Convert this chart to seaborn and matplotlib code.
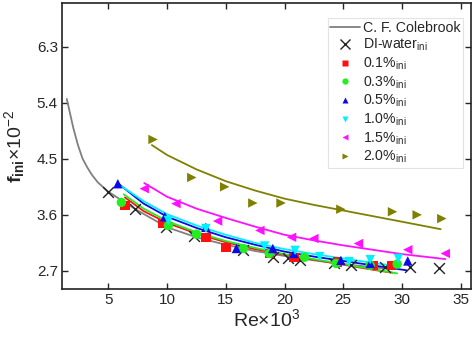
import numpy as np
import pandas as pd
import matplotlib
matplotlib.use("Agg")
import matplotlib.pyplot as plt
import seaborn as sns
from matplotlib.lines import Line2D

# ---- data ----
cb_x = [1.45, 1.7, 2.0, 2.4, 2.8, 3.2, 3.6, 4.1, 5.0, 7.3, 10.0, 12.5, 15.0, 17.5, 20.0, 22.5, 25.0, 27.5, 29.0]
cb_y = [5.46, 5.25, 5.00, 4.72, 4.50, 4.36, 4.24, 4.12, 3.97, 3.69, 3.40, 3.24, 3.12, 3.02, 2.94, 2.87, 2.81, 2.76, 2.73]

di_x = [5.0, 7.3, 9.9, 12.3, 16.5, 19.0, 20.3, 21.3, 24.2, 25.7, 28.6, 30.7, 33.2]
di_y = [3.97, 3.69, 3.41, 3.26, 3.04, 2.93, 2.90, 2.87, 2.82, 2.79, 2.76, 2.76, 2.75]

p01_x = [6.4, 9.6, 13.3, 15.0, 18.7, 20.8, 24.5, 27.6, 29.1]
p01_y = [3.75, 3.46, 3.24, 3.08, 2.98, 2.92, 2.84, 2.79, 2.79]
p03_x = [6.1, 10.1, 12.5, 16.5, 18.7, 21.7, 24.4, 27.3, 29.6]
p03_y = [3.80, 3.43, 3.29, 3.06, 2.98, 2.92, 2.82, 2.79, 2.81]
p05_x = [5.8, 9.8, 13.3, 15.9, 19.0, 20.8, 24.8, 27.3, 30.5]
p05_y = [4.10, 3.57, 3.40, 3.06, 3.06, 2.98, 2.87, 2.82, 2.86]
p10_x = [10.1, 13.3, 18.3, 20.9, 23.0, 25.5, 27.3, 29.7]
p10_y = [3.51, 3.38, 3.10, 3.03, 2.93, 2.85, 2.88, 2.90]
p15_x = [8.05, 10.75, 14.3, 17.9, 20.6, 22.5, 26.3, 30.5, 33.7]
p15_y = [4.02, 3.78, 3.50, 3.35, 3.24, 3.22, 3.14, 3.04, 2.98]
p20_x = [8.8, 12.1, 14.9, 17.3, 19.7, 24.8, 29.2, 31.3, 33.4]
p20_y = [4.81, 4.20, 4.05, 3.79, 3.79, 3.69, 3.65, 3.60, 3.54]

f01_x = [6.4, 8.0, 10.0, 12.5, 15.0, 17.5, 20.0, 22.5, 25.0, 27.5, 29.2]
f01_y = [3.88, 3.66, 3.47, 3.30, 3.16, 3.05, 2.96, 2.88, 2.80, 2.72, 2.67]
f03_x = [6.3, 8.0, 10.0, 12.5, 15.0, 17.5, 20.0, 22.5, 25.0, 27.5, 29.6]
f03_y = [3.93, 3.70, 3.50, 3.32, 3.18, 3.07, 2.97, 2.89, 2.81, 2.73, 2.66]
f05_x = [5.85, 8.0, 10.0, 12.5, 15.0, 17.5, 20.0, 22.5, 25.0, 27.5, 30.4]
f05_y = [4.10, 3.78, 3.57, 3.39, 3.24, 3.12, 3.01, 2.93, 2.86, 2.79, 2.71]
f10_x = [6.1, 8.0, 10.0, 12.5, 15.0, 17.5, 20.0, 22.5, 25.0, 27.5, 29.8]
f10_y = [4.06, 3.82, 3.61, 3.43, 3.28, 3.15, 3.05, 2.97, 2.90, 2.83, 2.77]
f15_x = [8.05, 10.0, 12.5, 15.0, 17.5, 20.0, 22.5, 25.0, 27.5, 30.0, 33.7]
f15_y = [4.11, 3.89, 3.70, 3.55, 3.41, 3.28, 3.19, 3.11, 3.04, 2.97, 2.89]
f20_x = [8.7, 10.0, 12.5, 15.0, 17.5, 20.0, 22.5, 25.0, 27.5, 30.0, 33.3]
f20_y = [4.72, 4.56, 4.33, 4.14, 3.99, 3.86, 3.76, 3.67, 3.58, 3.49, 3.37]

labels = ["DI-water", "0.1%", "0.3%", "0.5%", "1.0%", "1.5%", "2.0%"]
colors = ["#222222", "#ff1010", "#22ee22", "#0a0ae6", "#00f0ff", "#ff10ff", "#808000"]
markers = ["x", "s", "o", "^", "v", "<", ">"]
pts = [(di_x, di_y), (p01_x, p01_y), (p03_x, p03_y), (p05_x, p05_y),
       (p10_x, p10_y), (p15_x, p15_y), (p20_x, p20_y)]
fits = [None, (f01_x, f01_y), (f03_x, f03_y), (f05_x, f05_y),
        (f10_x, f10_y), (f15_x, f15_y), (f20_x, f20_y)]
yticks = [2.7, 3.6, 4.5, 5.4, 6.3]
xticks = [5, 10, 15, 20, 25, 30, 35]

sns.set_style("ticks")
plt.rcParams["font.family"] = ["Liberation Sans", "DejaVu Sans"]
plt.rcParams["mathtext.fontset"] = "custom"
plt.rcParams["mathtext.rm"] = "Liberation Sans"
plt.rcParams["mathtext.bf"] = "Liberation Sans:bold"
plt.rcParams["mathtext.it"] = "Liberation Sans:italic"

fig = plt.figure(figsize=(4.74, 3.38), dpi=100)
ax = fig.add_axes([0.131, 0.145, 0.863, 0.846])

# Colebrook line
sns.lineplot(x=cb_x, y=cb_y, ax=ax, color="#808080", lw=1.3, sort=False, legend=False)

# fit lines
for f, c in zip(fits, colors):
    if f is None:
        continue
    sns.lineplot(x=f[0], y=f[1], ax=ax, color=c, lw=1.3, sort=False, legend=False)

# markers
for (xx, yy), c, m in zip(pts, colors, markers):
    if m == "x":
        sns.scatterplot(x=xx, y=yy, ax=ax, marker="x", color=c, s=60, linewidth=1.0, zorder=5, legend=False)
    else:
        sns.scatterplot(x=xx, y=yy, ax=ax, marker=m, color=c, s=46, edgecolor="none", zorder=5, legend=False)

ax.set_xlim(1.05, 35.9)
ax.set_ylim(2.41, 7.0)
ax.set_xticks(xticks)
ax.set_yticks(yticks)
ax.set_yticklabels([f"{v:.1f}" for v in yticks])
ax.tick_params(direction="in", length=4, width=1, labelsize=11, top=True, right=True,
               labeltop=False, labelright=False, pad=3)
for s in ax.spines.values():
    s.set_linewidth(1.2)
    s.set_color("#222222")

ax.set_xlabel(r"Re×10$^{3}$", fontsize=14, labelpad=1)
ax.set_ylabel(r"$\mathbf{f_{ini}}$×10$^{-2}$", fontsize=14, labelpad=7)

handles = [Line2D([], [], color="#808080", lw=1.3)]
for c, m in zip(colors, markers):
    if m == "x":
        handles.append(Line2D([], [], ls="none", marker="x", color=c, markersize=7, mew=1.0))
    else:
        handles.append(Line2D([], [], ls="none", marker=m, color=c, markersize=4.5, mec="none"))
leg_labels = ["C. F. Colebrook"] + [l + r"$_{\mathrm{ini}}$" for l in labels]
leg = ax.legend(handles, leg_labels, loc="upper right", bbox_to_anchor=(0.981, 0.948),
                fontsize=10.2, frameon=True, fancybox=False, edgecolor="#dddddd",
                handlelength=2.05, handletextpad=0.25, labelspacing=0.16, borderpad=0.2,
                borderaxespad=0)
leg.get_frame().set_linewidth(0.8)

fig.savefig("out.png", dpi=100)
